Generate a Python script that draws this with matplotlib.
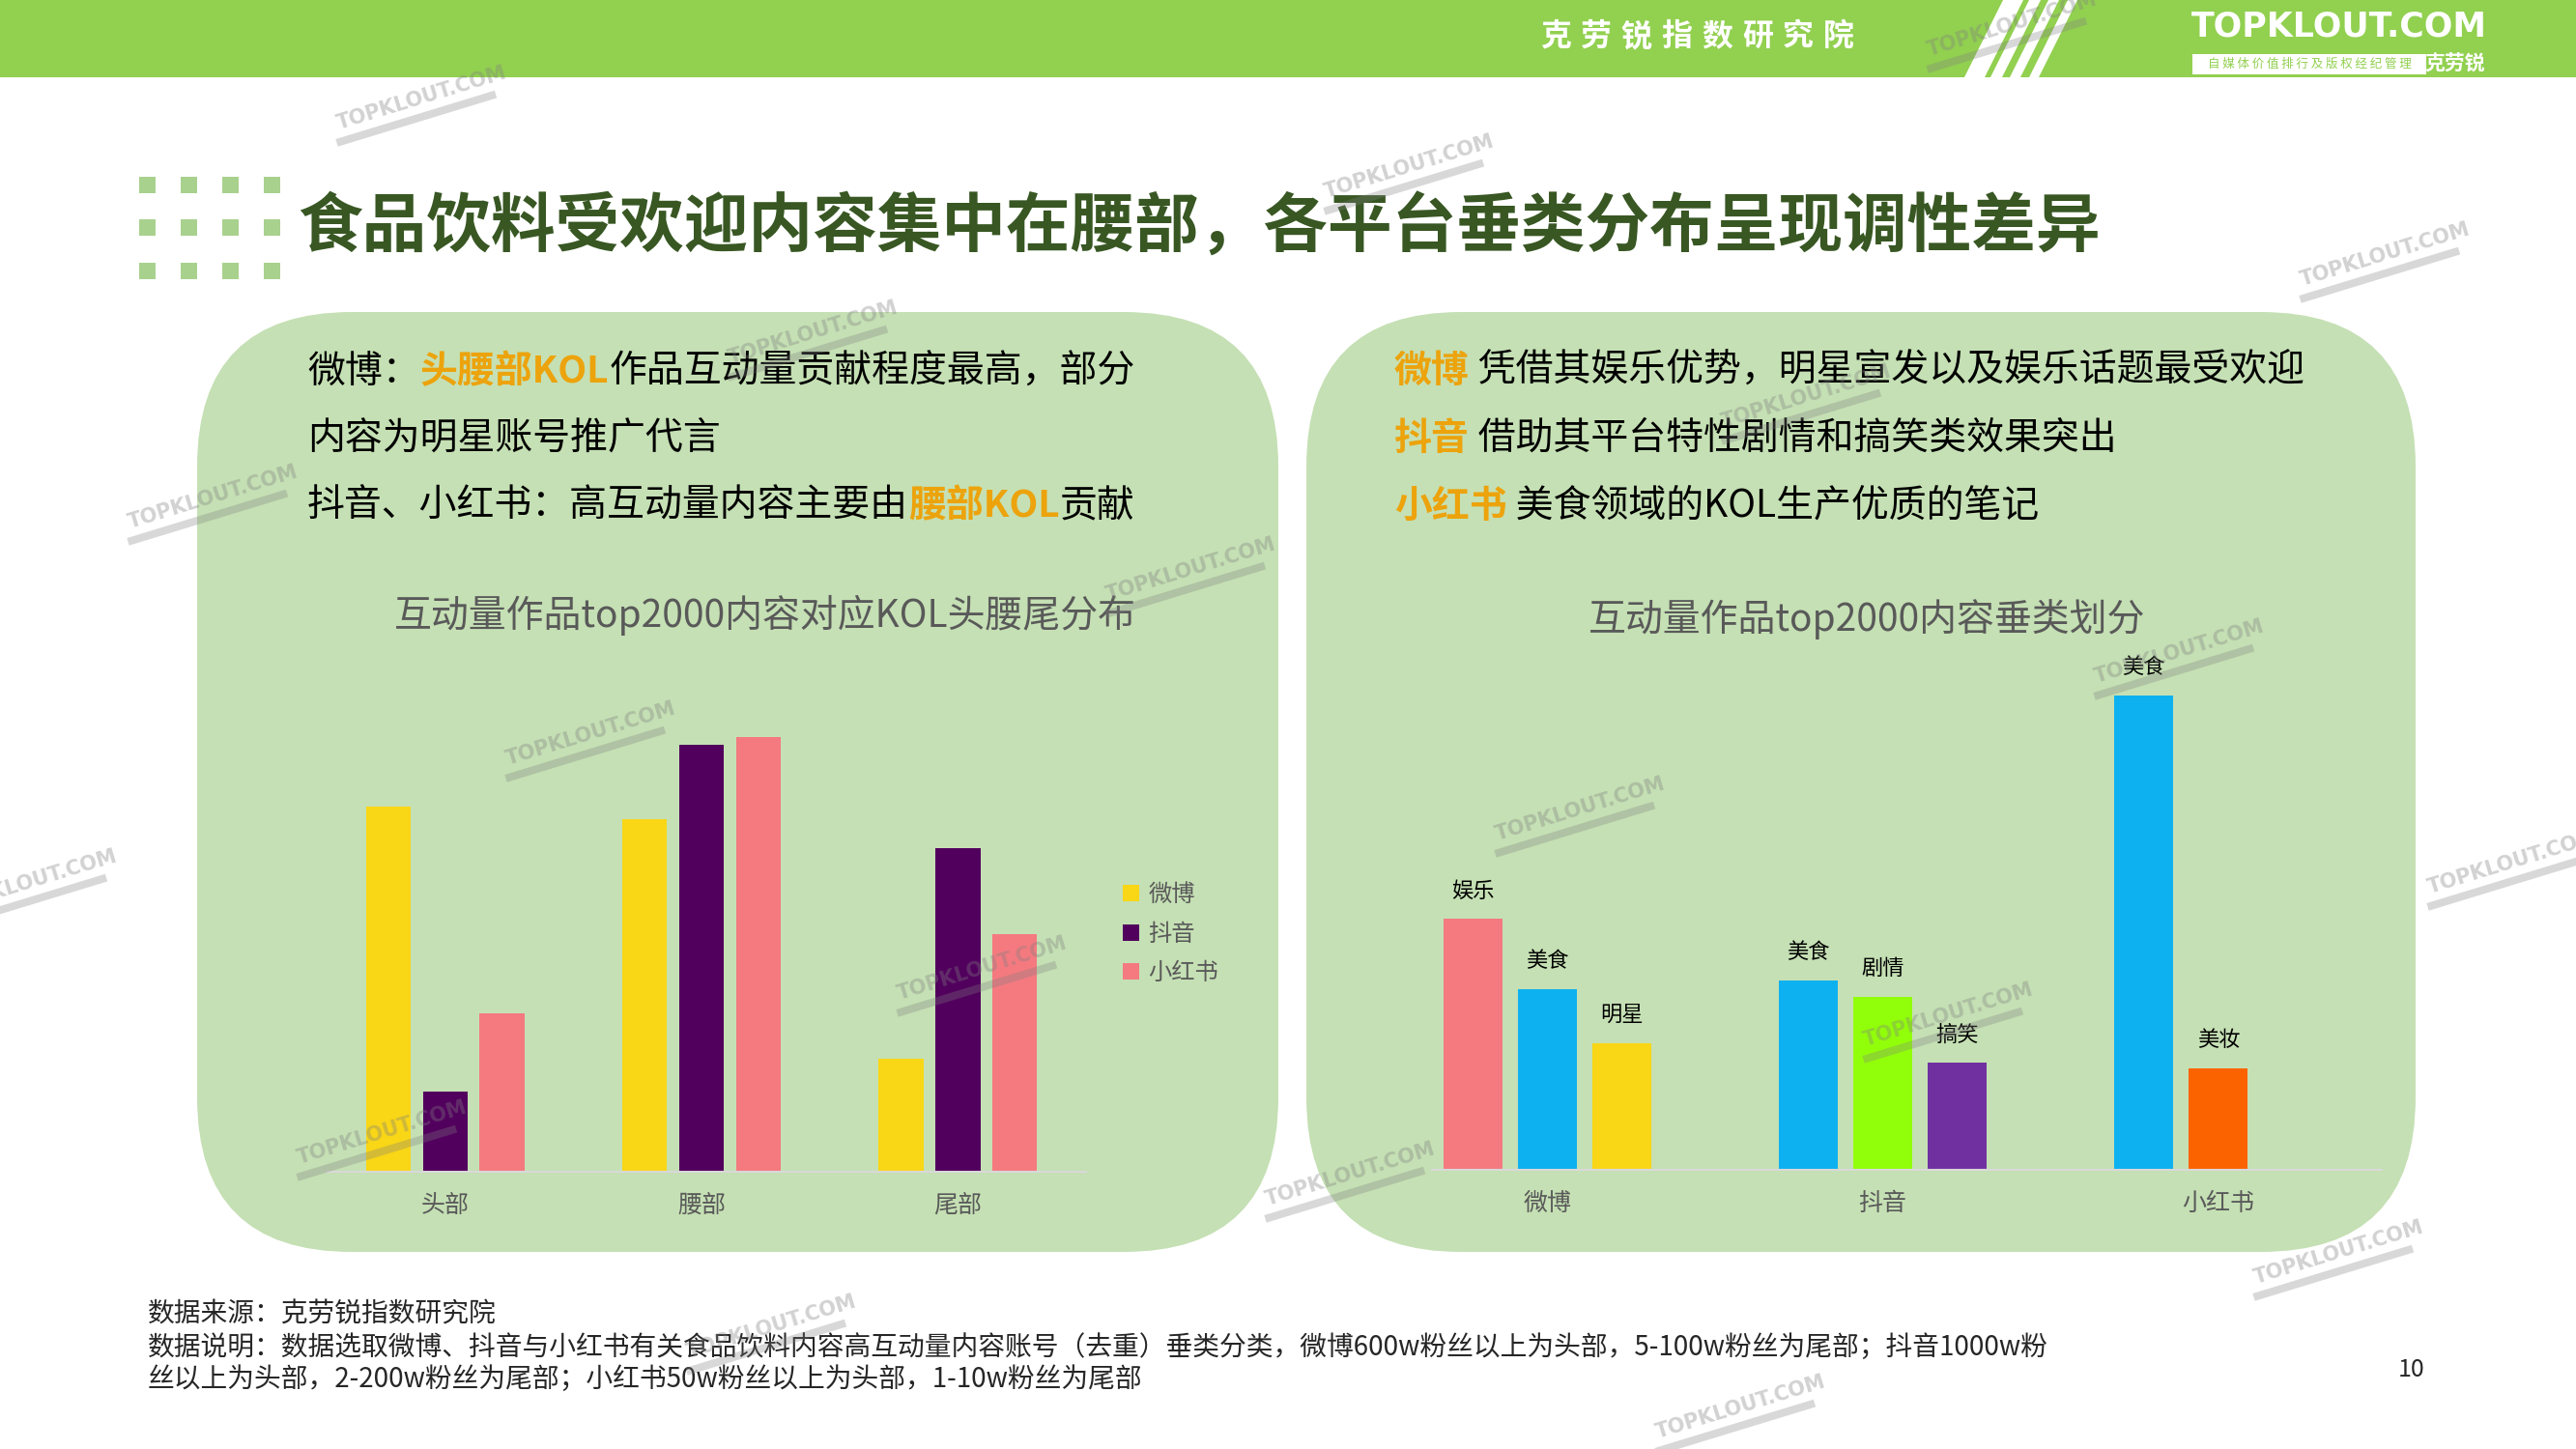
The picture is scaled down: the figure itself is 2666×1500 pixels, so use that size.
import matplotlib
matplotlib.use('Agg')
import matplotlib.pyplot as plt
from matplotlib.patches import FancyBboxPatch, Rectangle, Polygon
from matplotlib.transforms import Affine2D
from matplotlib import font_manager as fm

W, H = 2666, 1500

# --- 左图：互动量作品top2000内容对应KOL头腰尾分布（各平台占比 %） ---
kol_levels = ['头部', '腰部', '尾部']
platforms = ['微博', '抖音', '小红书']
weibo_share = [44.0, 42.4, 13.6]
douyin_share = [9.6, 51.4, 39.0]
xhs_share = [19.0, 52.4, 28.6]

# --- 右图：互动量作品top2000内容垂类划分 ---
vert_groups = ['微博', '抖音', '小红书']
weibo_cats = ['娱乐', '美食', '明星']
weibo_vals = [26.5, 19.1, 13.4]
douyin_cats = ['美食', '剧情', '搞笑']
douyin_vals = [20.0, 18.3, 11.3]
xhs_cats = ['美食', '美妆']
xhs_vals = [50.1, 10.7]

CJK = ['Noto Sans CJK SC', 'DejaVu Sans']
plt.rcParams['font.family'] = CJK

names = {f.name for f in fm.fontManager.ttflist}
NARROW = 'Liberation Sans Narrow' if 'Liberation Sans Narrow' in names else 'DejaVu Sans'

GREEN_BAR = '#92d050'
PANEL = '#c5e0b4'
ORANGE = '#eca30c'
GRAY = '#595959'

fig = plt.figure(figsize=(W / 100, H / 100), dpi=100)
fig.patch.set_facecolor('white')

bg = fig.add_axes([0, 0, 1, 1], zorder=0)
bg.set_xlim(0, W)
bg.set_ylim(H, 0)
bg.axis('off')

# --- 顶部横条 ---
bg.add_patch(Rectangle((0, 0), W, 80, color=GREEN_BAR, lw=0))
stripes = [(2033, 2054), (2060, 2072), (2080, 2091), (2100, 2110)]
for a, b in stripes:
    bg.add_patch(Polygon([(a, 80), (b, 80), (b + 40, 0), (a + 40, 0)], closed=True, color='white', lw=0))
for i, ch in enumerate('克劳锐指数研究院'):
    bg.text(1610 + i * 41.8, 38, ch, fontsize=23, fontweight='bold', color='white', ha='center', va='center')
bg.text(2268, 28, 'TOPKLOUT.COM', fontsize=33 if NARROW != 'DejaVu Sans' else 25, fontweight='bold',
        family=NARROW, color='white', ha='left', va='center')
bg.add_patch(Rectangle((2269, 56), 242, 21, color='white', lw=0))
bg.text(2390, 66.5, '自 媒 体 价 值 排 行 及 版 权 经 纪 管 理', fontsize=9, color=GREEN_BAR,
        ha='center', va='center')
bg.text(2541, 66.5, '克劳锐', fontsize=15, fontweight='bold', color='white', ha='center', va='center')

# --- 标题 ---
for cx in [152, 195, 238, 281]:
    for cy in [191, 235, 280]:
        bg.add_patch(Rectangle((cx - 8.5, cy - 8.5), 17, 17, color='#a9d18e', lw=0))
bg.text(308, 236, '食品饮料受欢迎内容集中在腰部，各平台垂类分布呈现调性差异', fontsize=48,
        fontweight='bold', color='#385723', ha='left', va='center')

# --- 两个面板 ---
r = 160
bg.add_patch(FancyBboxPatch((204 + r, 323 + r), 1119 - 2 * r, 973 - 2 * r,
                            boxstyle=f'round,pad={r},rounding_size={r}', fc=PANEL, ec='none'))
bg.add_patch(FancyBboxPatch((1352 + r, 323 + r), 1148 - 2 * r, 973 - 2 * r,
                            boxstyle=f'round,pad={r},rounding_size={r}', fc=PANEL, ec='none'))

renderer = fig.canvas.get_renderer()


def runs(x, y, parts, size=28):
    for txt, color, weight in parts:
        t = bg.text(x, y, txt, fontsize=size, color=color, fontweight=weight, ha='left', va='center')
        x += t.get_window_extent(renderer).width


runs(318, 385, [('微博：', 'black', 'normal'), ('头腰部KOL', ORANGE, 'bold'),
                ('作品互动量贡献程度最高，部分', 'black', 'normal')])
runs(318, 455, [('内容为明星账号推广代言', 'black', 'normal')])
runs(318, 524, [('抖音、小红书：高互动量内容主要由', 'black', 'normal'), ('腰部KOL', ORANGE, 'bold'),
                ('贡献', 'black', 'normal')])

runs(1443, 384, [('微博', ORANGE, 'bold'), (' 凭借其娱乐优势，明星宣发以及娱乐话题最受欢迎', 'black', 'normal')])
runs(1443, 454, [('抖音', ORANGE, 'bold'), (' 借助其平台特性剧情和搞笑类效果突出', 'black', 'normal')])
runs(1443, 524, [('小红书', ORANGE, 'bold'), (' 美食领域的KOL生产优质的笔记', 'black', 'normal')])

bg.text(792, 637, '互动量作品top2000内容对应KOL头腰尾分布', fontsize=28, color=GRAY, ha='center', va='center')
bg.text(1932, 641, '互动量作品top2000内容垂类划分', fontsize=28, color=GRAY, ha='center', va='center')


def px_axes(x0, y0, x1, y1):
    a = fig.add_axes([x0 / W, 1 - y1 / H, (x1 - x0) / W, (y1 - y0) / H], zorder=1)
    a.set_facecolor('none')
    for s in ['top', 'right', 'left']:
        a.spines[s].set_visible(False)
    a.spines['bottom'].set_color('#d9d9d9')
    a.spines['bottom'].set_linewidth(1.5)
    a.set_yticks([])
    a.tick_params(axis='x', length=0, pad=16, labelsize=18, labelcolor=GRAY)
    return a


slot, bw = 0.222, 0.175

# --- 左图 ---
ax1 = px_axes(338, 1212.5 - 60 * 8.585, 1124, 1212.5)
ax1.set_xlim(-0.463, 2.5)
ax1.set_ylim(0, 60)
left_colors = ['#f9d616', '#52005e', '#f47a80']
for j, (vals, c, name) in enumerate(zip([weibo_share, douyin_share, xhs_share], left_colors, platforms)):
    xs = [i + (j - 1) * slot for i in range(len(kol_levels))]
    ax1.bar(xs, vals, width=bw, color=c, label=name, lw=0)
ax1.set_xticks(range(len(kol_levels)))
ax1.set_xticklabels(kol_levels)
ax1.legend(loc='upper left', bbox_to_anchor=((1160 - 338) / (1124 - 338) - 0.01, 0.6), frameon=False,
           fontsize=17.5, labelcolor=GRAY, handlelength=0.7, handleheight=0.7, handletextpad=0.4,
           labelspacing=0.6, borderaxespad=0)

# --- 右图 ---
ax2 = px_axes(1482, 1211 - 55 * 9.8, 2465, 1211)
ax2.set_xlim(-0.3435, 2.487)
ax2.set_ylim(0, 55)
groups = [(weibo_cats, weibo_vals, ['#f47a80', '#0eb1ef', '#f9d616']),
          (douyin_cats, douyin_vals, ['#0eb1ef', '#92ff0a', '#7030a0']),
          (xhs_cats, xhs_vals, ['#0eb1ef', '#fb6300'])]
for i, (cats, vals, cols) in enumerate(groups):
    xs = [i + (j - 1) * slot for j in range(len(vals))]
    bars = ax2.bar(xs, vals, width=bw, color=cols, lw=0)
    for b, cat in zip(bars, cats):
        ax2.annotate(cat, (b.get_x() + b.get_width() / 2, b.get_height()), xytext=(0, 21),
                     textcoords='offset points', ha='center', va='center', fontsize=16, color='black')
ax2.set_xticks(range(len(vert_groups)))
ax2.set_xticklabels(vert_groups)

# --- 脚注 ---
foot = ['数据来源：克劳锐指数研究院',
        '数据说明：数据选取微博、抖音与小红书有关食品饮料内容高互动量内容账号（去重）垂类分类，微博600w粉丝以上为头部，5-100w粉丝为尾部；抖音1000w粉',
        '丝以上为头部，2-200w粉丝为尾部；小红书50w粉丝以上为头部，1-10w粉丝为尾部']
for k, line in enumerate(foot):
    bg.text(153, 1361 + k * 33.5, line, fontsize=20, color='#262626', ha='left', va='center')
bg.text(2496, 1418, '10', fontsize=18, color='#262626', ha='center', va='center')

# --- 水印 ---
ov = fig.add_axes([0, 0, 1, 1], zorder=10)
ov.set_xlim(0, W)
ov.set_ylim(H, 0)
ov.axis('off')
ov.patch.set_alpha(0)
marks = [(437, 102), (1459, 173), (2469, 264), (842, 345), (221, 515), (1233, 590), (612, 760),
         (1636, 838), (2256, 675), (1017, 1003), (396, 1173), (2017, 1051), (1398, 1216),
         (2421, 1297), (799, 1374), (1802, 1457), (34, 913), (2601, 893), (1870, 411), (2083, 26)]
wm_size = 21 if NARROW != 'DejaVu Sans' else 15
for cx, cy in marks:
    ov.text(cx, cy, 'TOPKLOUT.COM', rotation=17, rotation_mode='anchor', ha='center', va='center',
            fontsize=wm_size, fontweight='bold', family=NARROW, color='#7f7f7f', alpha=0.35)
    tr = Affine2D().rotate_deg_around(cx, cy, -17) + ov.transData
    ov.add_patch(Rectangle((cx - 98, cy + 14), 172, 8, color='#7f7f7f', alpha=0.3, lw=0, transform=tr))

fig.savefig('out.png', dpi=100, facecolor='white')
